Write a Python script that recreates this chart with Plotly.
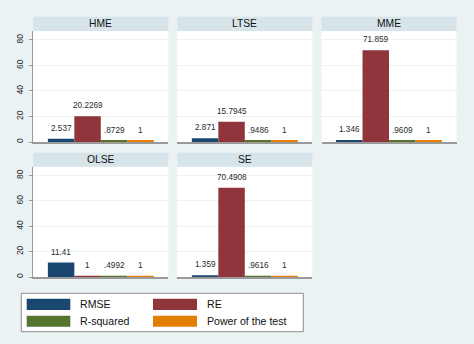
import plotly.graph_objects as go

# ---- data ----
panels = ["HME", "LTSE", "MME", "OLSE", "SE"]
series = ["RMSE", "RE", "R-squared", "Power of the test"]
rmse = [2.537, 2.871, 1.346, 11.41, 1.359]
re = [20.2269, 15.7945, 71.859, 1, 70.4908]
rsq = [0.8729, 0.9486, 0.9609, 0.4992, 0.9616]
power = [1, 1, 1, 1, 1]
y_ticks = [0, 20, 40, 60, 80]

values = [rmse, re, rsq, power]
colors = ["#1a476f", "#90353b", "#55752f", "#e37e00"]

W, H = 474, 344
BG = "#eaf2f3"
STRIP = "#d7e4ea"
GRID = "#eaf2f3"
AXIS = "#9a9a9a"
FONT = "Liberation Sans, Arial"


def px(x):
    return x / W


def py(y):
    return 1 - y / H


def stata_fmt(v):
    s = f"{v:g}"
    if s.startswith("0."):
        s = s[1:]
    return s


col_px = [(33.3, 168.3), (177.3, 312.3), (321.5, 456.5)]
row_px = [(31.0, 142.0), (166.7, 277.0)]
strip_px = [(16.7, 31.0), (152.7, 166.7)]
pos = [(0, 0), (0, 1), (0, 2), (1, 0), (1, 1)]

fig = go.Figure()
shapes = []
annotations = []

for p, name in enumerate(panels):
    r, c = pos[p]
    k = p + 1
    xa = "x" if k == 1 else f"x{k}"
    ya = "y" if k == 1 else f"y{k}"
    for s in range(4):
        fig.add_trace(go.Bar(
            x=[s], y=[values[s][p]], width=1.0,
            marker=dict(color=colors[s], line=dict(width=0)),
            name=series[s], showlegend=False,
            xaxis=xa, yaxis=ya, hoverinfo="skip",
        ))
        annotations.append(dict(
            x=s, y=values[s][p], xref=xa, yref=ya,
            text=stata_fmt(values[s][p]), showarrow=False,
            yanchor="bottom", xanchor="center", yshift=4,
            font=dict(family=FONT, size=8.2, color="#2a2a2a"),
        ))
    x0, x1 = col_px[c]
    y0, y1 = row_px[r]
    first = (c == 0)
    fig.layout[f"xaxis{'' if k == 1 else k}"] = dict(
        domain=[px(x0), px(x1)], range=[-1.05, 4.05], anchor=ya,
        showgrid=False, zeroline=False, showticklabels=False, ticks="",
        showline=True, linecolor=AXIS, linewidth=2, fixedrange=True,
    )
    fig.layout[f"yaxis{'' if k == 1 else k}"] = dict(
        domain=[py(y1), py(y0)], range=[0, 87], anchor=xa,
        tickvals=y_ticks, showgrid=True, gridcolor=GRID, gridwidth=1,
        zeroline=False, showticklabels=first,
        ticks="outside" if first else "", ticklen=3, tickcolor=AXIS,
        tickangle=-90, ticklabelstandoff=3,
        showline=first, linecolor=AXIS, linewidth=1,
        tickfont=dict(family=FONT, size=8.5, color="#2a2a2a"),
        fixedrange=True,
    )
    sy0, sy1 = strip_px[r]
    shapes.append(dict(type="rect", xref="paper", yref="paper",
                       x0=px(x0), x1=px(x1), y0=py(sy1), y1=py(sy0),
                       fillcolor=STRIP, line=dict(width=0), layer="below"))
    annotations.append(dict(
        x=px((x0 + x1) / 2), y=py((sy0 + sy1) / 2), xref="paper", yref="paper",
        text=name, showarrow=False, xanchor="center", yanchor="middle",
        font=dict(family=FONT, size=10.3, color="#111"),
    ))

# ---- legend (drawn) ----
shapes.append(dict(type="rect", xref="paper", yref="paper",
                   x0=px(21.3), x1=px(303.3), y0=py(331.7), y1=py(293.3),
                   fillcolor="white", line=dict(color="#8c8c8c", width=1)))
leg_cols = [(26.7, 70.3, 78.3), (153.0, 197.0, 204.7)]
leg_rows = [(298.7, 310.0), (315.7, 326.7)]
for s in range(4):
    rr, cc = divmod(s, 2)
    sx0, sx1, tx = leg_cols[cc]
    ry0, ry1 = leg_rows[rr]
    shapes.append(dict(type="rect", xref="paper", yref="paper",
                       x0=px(sx0), x1=px(sx1), y0=py(ry1), y1=py(ry0),
                       fillcolor=colors[s], line=dict(width=0)))
    annotations.append(dict(
        x=px(tx), y=py((ry0 + ry1) / 2), xref="paper", yref="paper",
        text=series[s], showarrow=False, xanchor="left", yanchor="middle",
        font=dict(family=FONT, size=10.6, color="#111"),
    ))

fig.update_layout(
    width=W, height=H, margin=dict(l=0, r=0, t=0, b=0),
    paper_bgcolor=BG, plot_bgcolor="white",
    barmode="overlay", showlegend=False,
    shapes=shapes, annotations=annotations,
)

fig.write_html("out.html")
